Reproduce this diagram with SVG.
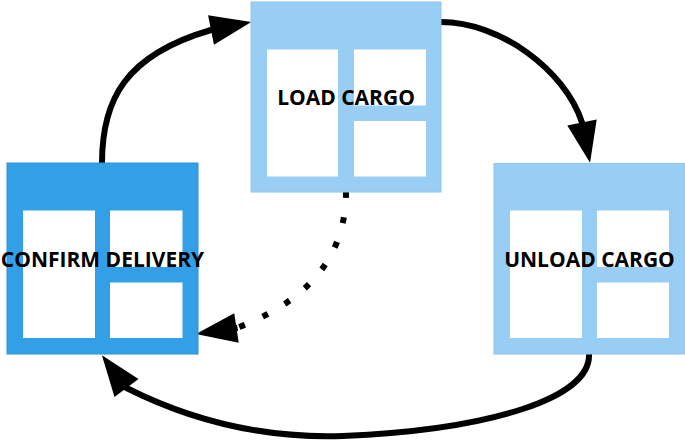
<svg xmlns="http://www.w3.org/2000/svg" width="685" height="441" viewBox="0 0 685 441">
<style>
.light{fill:#99cef4;stroke:#8ec6f0;stroke-width:1}
.dark{fill:#339fe7;stroke:#2b93dc;stroke-width:1}
.panel{fill:#ffffff}
.lbl{font-family:"Open Sans","Liberation Sans",sans-serif;font-weight:bold;font-size:21px;fill:#000000;text-anchor:middle;dominant-baseline:central}
.edge{fill:none;stroke:#000000;stroke-width:6}
.dotted{stroke-dasharray:6 19.5}
</style>
<defs>
<marker id="arrow" viewBox="-1 -16 44 32" refX="1" refY="0" markerWidth="44" markerHeight="32" markerUnits="userSpaceOnUse" orient="auto">
<path d="M0,-15 L41,0 L0,15 Z" fill="#000000"/>
</marker>
</defs>
<g id="connectors">
<path class="edge" d="M102,163 C102,100 125,55 211,30 L212,29.8" marker-end="url(#arrow)"/>
<path class="edge" d="M441,22 C500,22 565,70 582,122.5 L582.2,123.5" marker-end="url(#arrow)"/>
<path class="edge" d="M589,354 C591,398 490,430 343,436 C250,439 180,415 126.5,388 L125.9,387.2" marker-end="url(#arrow)"/>
<path class="edge dotted" d="M346,192 C346,240 325,295 236.5,328"/>
<path class="edge" d="M237.5,327.8 L236.5,328 L235.5,328.15" marker-end="url(#arrow)" stroke="none"/>
</g>
<g id="load-cargo">
<rect class="light" x="251" y="2" width="190" height="190"/>
<rect class="panel" x="267" y="49.5" width="71" height="127"/>
<rect class="panel" x="354" y="49.5" width="72" height="56"/>
<rect class="panel" x="354" y="121" width="72" height="55.5"/>
<text class="lbl" x="346" y="97">LOAD CARGO</text>
</g>
<g id="confirm-delivery">
<rect class="dark" x="7" y="163" width="191" height="191"/>
<rect class="panel" x="23" y="210.5" width="72" height="127.5"/>
<rect class="panel" x="110" y="210.5" width="72.5" height="56.5"/>
<rect class="panel" x="110" y="282.5" width="72.5" height="55.5"/>
<text class="lbl" x="102.5" y="259">CONFIRM DELIVERY</text>
</g>
<g id="unload-cargo">
<rect class="light" x="494" y="163.5" width="191" height="190.5"/>
<rect class="panel" x="510" y="210.5" width="72" height="127.5"/>
<rect class="panel" x="597" y="210.5" width="72" height="56.5"/>
<rect class="panel" x="597" y="282.5" width="72" height="55.5"/>
<text class="lbl" x="589.5" y="259">UNLOAD CARGO</text>
</g>
</svg>
